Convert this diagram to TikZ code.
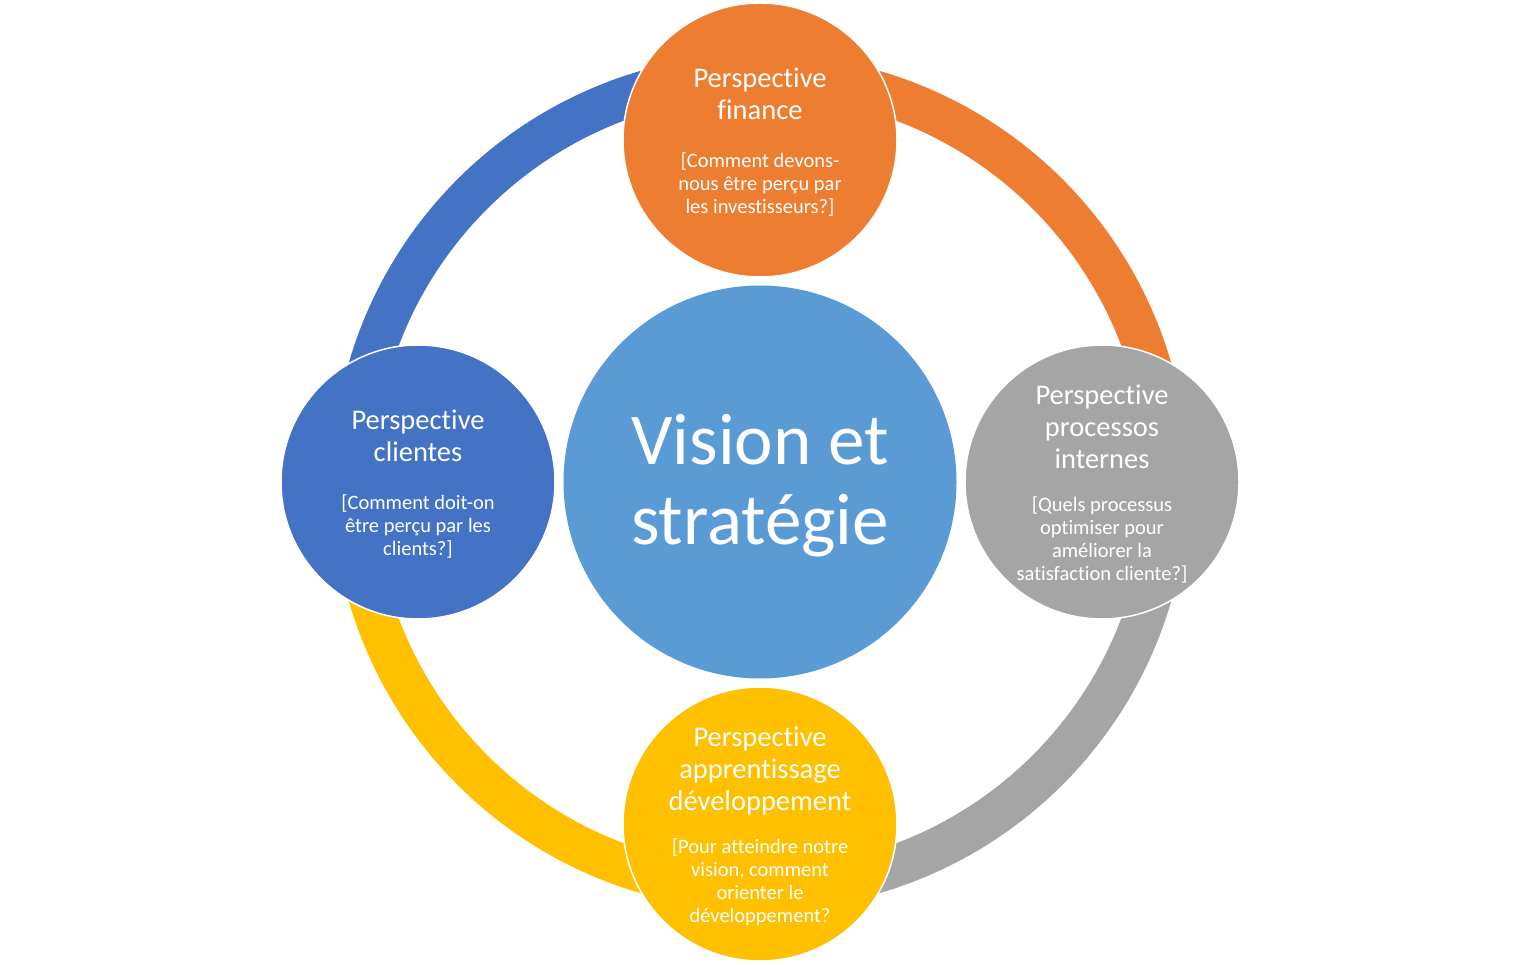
\documentclass[tikz,border=0pt]{standalone}
\usepackage{fontspec}
\setmainfont[Ligatures=NoCommon]{Carlito}
\definecolor{cOrange}{HTML}{ED7D31}
\definecolor{cBlue}{HTML}{4472C4}
\definecolor{cGray}{HTML}{A5A5A5}
\definecolor{cYellow}{HTML}{FFC000}
\definecolor{cCenter}{HTML}{5B9BD5}
\begin{document}
\begin{tikzpicture}[x=1pt,y=1pt,
  ringseg/.style={line width=42pt},
  smallc/.style={circle, draw=white, line width=1.5pt, minimum size=274pt, inner sep=0pt},
  ttl/.style={text=white, align=center, font=\fontsize{28.5}{32}\selectfont},
  bdy/.style={text=white, align=center, font=\fontsize{20.5}{23}\selectfont},
]
\useasboundingbox (0,0) rectangle (1520,964);
\coordinate (O) at (760,482);
% ring
\draw[ringseg, cBlue] (O) ++(180:407pt) arc[start angle=180, end angle=90, radius=407pt];
\draw[ringseg, cOrange] (O) ++(90:407pt) arc[start angle=90, end angle=0, radius=407pt];
\draw[ringseg, cGray] (O) ++(0:407pt) arc[start angle=0, end angle=-90, radius=407pt];
\draw[ringseg, cYellow] (O) ++(-90:407pt) arc[start angle=-90, end angle=-180, radius=407pt];
% center
\node[circle, fill=cCenter, minimum size=393pt, inner sep=0pt] (ctr) at (O) {};
\node[text=white, align=center, font=\fontsize{73}{80}\selectfont] (ctrT) at (760,478) {Vision et\\stratégie};
% small circles
\node[smallc, fill=cOrange] (fin) at (760,824) {};
\node[smallc, fill=cBlue] (cli) at (418,482) {};
\node[smallc, fill=cGray] (pro) at (1102,482) {};
\node[smallc, fill=cYellow] (app) at (760,140) {};
% texts
\node[ttl] (finT) at (760,870) {Perspective\\finance};
\node[bdy] (finB) at (760,780) {[Comment devons-\\nous être perçu par\\les investisseurs?]};
\node[ttl] (cliT) at (418,528) {Perspective\\clientes};
\node[bdy] (cliB) at (418,438) {[Comment doit-on\\être perçu par les\\clients?]};
\node[ttl] (proT) at (1102,537) {Perspective\\processos\\internes};
\node[bdy] (proB) at (1102,424) {[Quels processus\\optimiser pour\\améliorer la\\satisfaction cliente?]};
\node[ttl] (appT) at (760,193) {Perspective\\apprentissage\\développement};
\node[bdy] (appB) at (760,82) {[Pour atteindre notre\\vision, comment\\orienter le\\développement?};
\end{tikzpicture}
\end{document}
